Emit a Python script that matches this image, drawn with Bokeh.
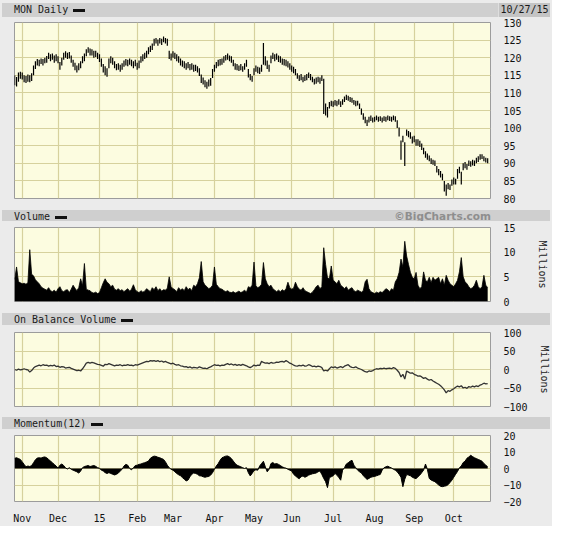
import numpy as np
import pandas as pd
from bokeh.plotting import figure
from bokeh.models import ColumnDataSource, Range1d, FixedTicker, Div
from bokeh.layouts import column
from bokeh.embed import file_html
from bokeh.resources import INLINE

# ---------------- data ----------------
symbol_title = "MON Daily"
last_date = "10/27/15"
holidays = ["2014-11-27", "2014-12-25", "2015-01-01", "2015-01-19", "2015-02-16",
            "2015-04-03", "2015-05-25", "2015-07-03", "2015-09-07"]
month_labels = ["Nov", "Dec", "15", "Feb", "Mar", "Apr", "May", "Jun", "Jul", "Aug", "Sep", "Oct"]

price_high = [
    115.0, 114.5, 115.8, 116.0, 115.8, 115.0, 114.8, 115.2, 115.0, 115.6,
    117.8, 119.0, 119.6, 119.4, 119.8, 119.6, 120.0, 120.5, 121.4, 121.0,
    121.2, 120.6, 121.0, 120.4, 118.8, 120.0, 121.4, 121.8, 121.4, 121.6,
    120.6, 119.4, 118.6, 117.8, 118.4, 119.0, 120.4, 121.2, 122.4, 123.0,
    122.6, 122.4, 122.0, 122.0, 121.4, 121.0, 119.8, 118.2, 117.6, 117.0,
    119.8, 120.4, 120.0, 119.0, 118.2, 118.4, 118.0, 118.4, 119.2, 119.6,
    119.4, 119.8, 119.4, 119.0, 119.4, 118.6, 119.2, 120.4, 121.0, 121.4,
    122.0, 123.0, 123.4, 124.0, 125.4, 125.6, 125.2, 125.6, 125.4, 126.0,
    125.6, 125.4, 122.0, 121.2, 121.8, 121.4, 121.0, 120.4, 119.8, 119.2,
    119.0, 118.4, 118.8, 118.2, 118.4, 118.0, 118.0, 117.6, 117.0, 115.2,
    114.4, 113.6, 113.2, 113.8, 114.2, 116.8, 118.0, 118.8, 119.4, 119.6,
    119.8, 120.4, 120.8, 121.2, 120.6, 120.4, 119.4, 118.4, 118.2, 117.8,
    118.2, 117.6, 118.4, 119.4, 116.8, 115.4, 114.8, 117.0, 117.8, 117.4,
    117.2, 118.0, 124.2, 120.4, 119.2, 118.0, 120.6, 121.4, 121.0, 121.2,
    120.6, 120.4, 119.8, 119.6, 119.4, 119.0, 118.4, 117.8, 117.4, 116.8,
    115.6, 115.0, 115.4, 114.6, 115.0, 115.4, 115.8, 115.4, 114.6, 114.0,
    114.4, 114.6, 114.4, 115.0, 114.0, 107.0, 106.0, 107.4, 107.8, 107.6,
    108.0, 107.8, 108.2, 107.6, 108.2, 109.0, 109.5, 109.2, 108.8, 108.6,
    108.0, 107.8, 107.8, 107.0, 105.6, 104.2, 103.2, 102.4, 103.2, 103.6,
    103.0, 103.2, 103.6, 103.2, 103.4, 103.0, 103.4, 103.2, 103.6, 103.4,
    103.2, 103.6, 103.4, 102.2, 100.2, 96.5, 97.8, 96.0, 99.6, 99.2,
    98.8, 97.6, 97.8, 96.8, 96.8, 96.4, 95.6, 94.4, 93.4, 92.8,
    92.2, 91.4, 91.0, 90.8, 89.2, 88.4, 87.8, 87.0, 85.0, 84.0,
    84.4, 84.0, 85.4, 86.0, 85.6, 88.4, 89.0, 87.6, 90.0, 90.4,
    89.8, 90.8, 90.6, 91.0, 90.8, 91.6, 92.0, 92.6, 92.6, 92.0, 91.6, 91.4,
]
price_low = [
    112.2, 111.8, 113.2, 114.0, 113.8, 113.0, 112.8, 113.2, 113.0, 113.4,
    115.0, 116.8, 117.8, 117.6, 118.2, 117.8, 118.4, 118.6, 119.6, 119.0,
    119.4, 118.6, 119.0, 118.4, 116.6, 117.8, 119.4, 120.0, 119.6, 119.8,
    118.6, 117.4, 116.4, 115.8, 116.4, 117.0, 118.4, 119.0, 120.4, 121.4,
    120.6, 120.6, 120.0, 120.2, 119.6, 118.8, 117.4, 115.8, 115.0, 114.6,
    117.0, 118.4, 118.0, 117.0, 116.4, 116.6, 116.0, 116.6, 117.4, 117.8,
    117.6, 118.0, 117.6, 117.0, 117.6, 116.6, 117.0, 118.6, 119.0, 119.6,
    120.0, 121.0, 121.6, 122.2, 123.4, 124.0, 123.4, 124.0, 123.6, 124.4,
    124.0, 123.4, 119.6, 119.2, 120.0, 119.6, 119.0, 118.6, 117.8, 117.4,
    117.0, 116.6, 117.0, 116.4, 116.6, 116.0, 116.2, 115.8, 114.8, 112.8,
    112.4, 111.6, 111.2, 111.8, 112.0, 114.2, 116.0, 117.0, 117.6, 117.8,
    118.0, 118.6, 119.2, 119.4, 119.0, 118.6, 117.6, 116.6, 116.4, 116.2,
    116.4, 116.0, 116.6, 117.4, 114.4, 113.6, 113.2, 115.0, 116.0, 115.6,
    115.4, 116.0, 118.0, 117.8, 116.8, 116.0, 118.4, 119.6, 119.0, 119.4,
    118.8, 118.6, 118.0, 117.8, 117.6, 117.2, 116.6, 116.0, 115.6, 115.0,
    114.0, 113.4, 113.6, 113.0, 113.4, 113.6, 114.2, 113.6, 113.0, 112.4,
    112.6, 113.0, 112.6, 113.4, 104.0, 103.6, 103.0, 105.6, 106.2, 106.0,
    106.4, 106.2, 106.6, 106.0, 106.6, 107.4, 108.0, 107.8, 107.4, 107.2,
    106.6, 106.2, 106.4, 105.4, 103.8, 102.4, 101.4, 100.6, 101.6, 102.0,
    101.6, 101.8, 102.2, 101.8, 102.0, 101.6, 102.0, 101.8, 102.2, 102.0,
    101.8, 102.2, 101.8, 100.0, 97.6, 91.0, 96.0, 89.2, 97.8, 97.4,
    97.0, 95.6, 96.0, 95.0, 95.0, 94.6, 93.8, 92.6, 91.6, 91.0,
    90.6, 89.8, 89.6, 89.2, 87.4, 86.6, 86.0, 85.2, 82.0, 80.8,
    82.6, 82.4, 83.6, 84.0, 84.0, 85.6, 87.2, 84.0, 88.0, 88.6,
    88.2, 89.2, 89.0, 89.4, 89.2, 90.0, 90.4, 91.0, 91.2, 90.6, 90.2, 90.0,
]
volume_m = [
    4.5, 7.0, 4.0, 3.8, 3.6, 3.7, 3.5, 3.8, 10.5, 5.5,
    5.2, 4.4, 4.0, 3.6, 3.0, 2.7, 2.5, 2.3, 2.8, 2.2,
    2.0, 2.3, 1.9, 2.6, 3.0, 2.2, 2.0, 2.3, 2.4, 1.8,
    2.5, 3.3, 2.7, 2.2, 2.8, 4.6, 3.2, 7.7, 2.5, 2.3,
    2.2, 1.8, 1.7, 1.9, 1.6, 1.8, 2.8, 3.8, 4.6, 3.9,
    3.6, 3.0, 3.3, 2.5, 2.3, 2.6, 2.2, 2.4, 2.0, 2.3,
    2.6, 2.1, 2.5, 3.4, 2.4, 2.0, 1.8, 2.2, 1.9, 2.1,
    2.6, 2.3, 2.0, 2.8, 2.4, 3.0, 2.2, 2.6, 2.1, 2.4,
    2.3, 2.7, 5.0, 3.0, 2.6, 2.4, 2.0, 2.8, 2.3, 2.6,
    2.2, 3.0, 2.4, 2.7, 2.2, 3.3, 3.0, 3.6, 4.8, 8.1,
    4.0, 3.3, 3.0, 2.6, 2.8, 3.3, 7.0, 3.5, 3.0, 2.6,
    2.5, 2.2, 2.0, 2.2, 1.9, 1.8, 2.0, 1.7, 1.9, 2.1,
    1.8, 2.0, 2.3, 1.9, 3.0, 2.8, 3.3, 8.0, 3.2, 2.8,
    3.0, 3.5, 7.9, 4.6, 3.6, 3.0, 3.3, 2.6, 2.3, 2.0,
    2.3, 2.0, 2.4, 2.1, 2.6, 3.9, 2.8, 2.5, 2.7, 3.9,
    3.0, 2.5, 2.3, 2.8, 2.2, 2.0, 1.8, 1.6, 1.9, 2.4,
    3.0, 3.3, 2.6, 3.0, 10.9, 7.5, 4.8, 4.6, 7.2, 4.3,
    4.0, 3.6, 4.3, 3.3, 3.0, 2.6, 3.0, 2.3, 2.6, 2.8,
    2.2, 2.0, 2.3, 2.1, 1.9, 2.2, 4.0, 4.5, 2.6, 2.0,
    1.8, 1.6, 1.9, 1.7, 2.0, 1.8, 2.2, 2.6, 2.4, 2.0,
    2.6, 2.3, 4.0, 4.6, 5.9, 8.6, 7.0, 12.2, 9.2, 7.5,
    5.9, 4.9, 4.6, 5.9, 3.3, 2.6, 3.0, 6.0, 4.3, 4.0,
    4.9, 3.8, 4.9, 4.3, 4.6, 4.9, 3.6, 4.6, 3.3, 5.3,
    4.3, 3.6, 3.3, 3.0, 3.6, 4.3, 6.0, 8.9, 5.0, 4.0,
    3.6, 3.0, 2.6, 2.8, 3.3, 4.3, 3.0, 2.6, 3.0, 5.3, 3.3, 2.8,
]
obv_m = [
    0, -2, 1, -1, 0, 2, 0, -1, -7, -3,
    4, 8, 10, 12, 10, 13, 11, 12, 9, 11,
    10, 12, 8, 9, 6, 8, 7, 4, 5, 6,
    3, 1, -1, -3, -2, -4, 2, 9, 17, 19,
    17, 19, 18, 16, 14, 13, 11, 9, 14, 13,
    16, 14, 12, 10, 12, 11, 13, 10, 12, 11,
    13, 11, 12, 10, 13, 12, 14, 16, 18, 20,
    22, 21, 24, 23, 24, 22, 24, 21, 23, 20,
    22, 19, 17, 15, 17, 14, 12, 13, 10, 9,
    7, 8, 5, 7, 4, 6, 5, 4, 7, 5,
    3, 4, 2, 5, 7, 10, 13, 11, 12, 10,
    12, 11, 14, 16, 13, 15, 12, 14, 11, 13,
    11, 14, 12, 10, 7, 5, 8, 12, 10, 12,
    11, 22, 19, 17, 18, 16, 19, 17, 18, 20,
    19, 21, 22, 20, 24, 21, 17, 15, 12, 10,
    9, 11, 10, 12, 9, 10, 13, 11, 8, 9,
    7, 9, 8, 5, -4, -2, -4, 2, 7, 5,
    7, 4, 6, 8, 5, 9, 11, 13, 8, 6,
    5, 7, 4, 2, 0, -3, -6, -7, -4, -5,
    -3, 0, 2, 1, 3, 2, 4, 2, 3, 4,
    2, 5, 3, -2, -8, -20, -13, -26, -4, -7,
    -10, -9, -13, -15, -18, -17, -20, -24, -22, -26,
    -29, -27, -31, -34, -37, -40, -44, -49, -55, -63,
    -57, -59, -55, -52, -48, -45, -47, -44, -50, -48,
    -51, -46, -48, -45, -47, -44, -46, -42, -40, -37, -39, -38,
]
momentum_12 = [
    6.2, 6.5, 6.0, 5.5, 4.0, 2.5, 1.0, 1.5, 1.2, 1.8,
    3.5, 5.3, 6.3, 6.5, 6.3, 6.8, 7.0, 6.5, 5.5, 4.5,
    3.5, 2.5, 1.5, 0.2, 2.0, 2.7, 1.8, 0.3, -0.3, 0.5,
    -0.5, -1.0, -1.5, -2.0, -2.8, -1.5, 0.5, 1.2, 1.5, 1.8,
    1.2, 1.5, 1.8, 1.3, 0.5, 0.2, -1.0, -1.5, -2.5, -3.0,
    -2.5, -3.0, -3.5, -3.9, -3.5, -2.8, -1.5, -0.5, 1.5, 2.5,
    2.0, 0.0, -0.8, 0.5, 1.8, 2.0, 2.5, 2.7, 3.2, 3.5,
    4.0, 4.5, 6.2, 7.0, 7.5, 7.3, 6.8, 6.5, 6.0, 5.5,
    4.0, 2.0, 0.5, -0.5, -1.0, -2.0, -3.0, -3.8, -4.4, -5.5,
    -6.5, -7.5, -7.0, -5.0, -3.5, -2.7, -3.0, -3.5, -4.4, -4.5,
    -5.0, -5.3, -5.0, -4.8, -4.0, -2.5, -0.5, 1.5, 3.0, 5.0,
    6.5, 7.0, 7.5, 7.6, 7.0, 6.0, 4.5, 3.0, 2.0, 1.5,
    1.0, 0.5, 0.0, 0.5, -2.5, -4.5, -3.0, -1.2, -0.8, -1.0,
    1.5, 3.0, 4.4, 1.0, -2.0, -0.5, 3.0, 3.6, 2.7, 3.0,
    2.5, 1.8, 1.0, 0.5, 0.2, -0.5, -1.0, -1.5, -3.5, -4.5,
    -5.5, -6.2, -5.0, -4.5, -5.3, -4.8, -4.0, -3.6, -3.2, -3.0,
    -2.7, -2.0, -1.5, -3.6, -6.0, -8.0, -11.6, -5.5, -5.0, -4.4,
    -3.0, -4.0, -5.5, -7.1, -1.0, 0.5, 2.7, 3.5, 4.4, 5.0,
    2.0, 0.5, -1.0, -2.0, -2.7, -4.4, -5.5, -6.6, -6.0, -5.3,
    -5.0, -4.8, -4.4, -4.0, -3.6, -1.0, 0.5, 1.0, 1.4, 0.8,
    0.3, -0.5, -1.0, -2.0, -3.5, -5.3, -11.0, -6.5, -3.6, -4.0,
    -4.4, -5.3, -5.8, -6.2, -5.0, -4.0, -2.5, -1.0, 2.7, -0.5,
    -6.0, -7.0, -7.5, -8.0, -9.0, -10.0, -10.8, -11.0, -10.7, -10.5,
    -9.8, -8.5, -7.1, -5.3, -3.5, -1.8, 0.5, 1.5, 3.6, 4.4,
    6.2, 7.0, 8.0, 7.2, 6.5, 6.0, 5.5, 5.0, 4.4, 3.0, 2.0, 1.0,
]

price_ticks = [80, 85, 90, 95, 100, 105, 110, 115, 120, 125, 130]
volume_ticks = [0, 5, 10, 15]
obv_ticks = [-100, -50, 0, 50, 100]
momentum_ticks = [-20, -10, 0, 10, 20]

# ---------------- build ----------------
dates = pd.bdate_range("2014-10-28", "2015-10-27", freq="C", holidays=holidays)
n = min(len(dates), len(price_high), len(price_low), len(volume_m), len(obv_m), len(momentum_12))
dates = dates[:n]
xi = list(range(n))
month_starts = [i for i in range(1, n) if dates[i].month != dates[i - 1].month]

src = ColumnDataSource(dict(
    x=xi, hi=price_high[:n], lo=price_low[:n], vol=volume_m[:n],
    obv=obv_m[:n], mom=momentum_12[:n],
))

W = 552
BORDER_L = 14
BORDER_R = 61
PAGE_BG = "#ebebeb"
BAR_BG = "#cfcfcf"
PLOT_BG = "#fcfce0"
GRID = "#d6d19d"
MONO = "DejaVu Sans Mono"

xr = Range1d(-0.1, 252.5)


def make_fig(h, top, bottom, yr, yticks, show_x=False, unit_label=None, unit_standoff=13):
    p = figure(width=W, height=h, x_range=xr, y_range=Range1d(*yr),
               y_axis_location="right", toolbar_location=None, output_backend="svg",
               min_border_left=BORDER_L, min_border_right=BORDER_R,
               min_border_top=top, min_border_bottom=bottom)
    p.border_fill_color = PAGE_BG
    p.background_fill_color = PLOT_BG
    p.outline_line_color = "#9c9c9c"
    p.outline_line_width = 1
    ya = p.yaxis[0]
    ya.ticker = FixedTicker(ticks=yticks)
    ya.axis_line_color = None
    ya.major_tick_line_color = None
    ya.minor_tick_line_color = None
    ya.major_label_standoff = 7
    ya.major_label_text_font = MONO
    ya.major_label_text_font_size = "10px"
    ya.major_label_text_color = "#111111"
    if unit_label:
        ya.axis_label = unit_label
        ya.axis_label_text_font = MONO
        ya.axis_label_text_font_size = "10px"
        ya.axis_label_text_font_style = "normal"
        ya.axis_label_text_color = "#222222"
        ya.axis_label_standoff = unit_standoff
    xa = p.xaxis[0]
    xa.ticker = FixedTicker(ticks=month_starts)
    xa.major_label_overrides = {m: lab for m, lab in zip(month_starts, month_labels)}
    xa.axis_line_color = None
    xa.major_tick_line_color = None
    xa.minor_tick_line_color = None
    xa.major_label_standoff = 5
    xa.major_label_text_font = MONO
    xa.major_label_text_font_size = "10px"
    xa.major_label_text_color = "#111111"
    xa.visible = show_x
    p.xgrid.ticker = FixedTicker(ticks=month_starts)
    p.ygrid.ticker = FixedTicker(ticks=yticks)
    for g in (p.xgrid, p.ygrid):
        g.grid_line_color = GRID
        g.grid_line_width = 1.2
    return p


def bar_div(h, top, left_text, right_html=""):
    swatch = ('<span style="display:inline-block;width:12px;height:3px;'
              'background:#111;vertical-align:middle;margin-left:5px;"></span>')
    html = (f'<div style="margin-top:{top}px;margin-left:2px;width:{W - 4}px;height:{h}px;'
            f'background:{BAR_BG};display:flex;align-items:center;justify-content:space-between;'
            f"font-family:'{MONO}',monospace;font-size:10px;color:#1a1a1a;line-height:{h}px;"
            f'white-space:nowrap;overflow:hidden;">'
            f'<span style="padding-left:12px;">{left_text}{swatch}</span>{right_html}</div>')
    return Div(text=html, width=W, height=h + top, margin=0,
               styles={"background-color": PAGE_BG, "overflow": "hidden"})


date_html = (f'<span style="background:#c4c4c4;width:52px;height:14px;text-align:center;'
             f'border-left:1px solid #dedede;">{last_date}</span>')
brand_html = ('<span style="font-family:\'DejaVu Sans\',sans-serif;font-weight:bold;color:#8e8e8e;'
              'font-size:10.5px;padding-right:59px;">&copy;BigCharts.com</span>')

bar1 = bar_div(14, 3, symbol_title, date_html)
bar2 = bar_div(13, 0, "Volume", brand_html)
bar3 = bar_div(14, 0, "On Balance Volume")
bar4 = bar_div(14, 0, "Momentum(12)")

# price
p1 = make_fig(191, 5, 10, (80, 130), price_ticks)
p1.segment(x0="x", y0="lo", x1="x", y1="hi", source=src, line_color="#000000", line_width=1.2)

# volume
p2 = make_fig(90, 6, 10, (0, 15), volume_ticks, unit_label="Millions", unit_standoff=18)
p2.varea(x="x", y1=0, y2="vol", source=src, fill_color="#000000")
p2.line(x="x", y="vol", source=src, line_color="#000000", line_width=0.8)

# OBV
p3 = make_fig(90, 7, 9, (-100, 100), obv_ticks, unit_label="Millions", unit_standoff=8)
p3.line(x="x", y="obv", source=src, line_color="#333333", line_width=1.3)

# Momentum
p4 = make_fig(97, 6, 17, (-20, 20), momentum_ticks, show_x=True)
p4.varea(x="x", y1=0, y2="mom", source=src, fill_color="#000000")
p4.line(x="x", y="mom", source=src, line_color="#000000", line_width=1)

layout = column(bar1, p1, bar2, p2, bar3, p3, bar4, p4, spacing=0)
layout.styles = {"background-color": PAGE_BG}

open("out.html", "w").write(file_html(layout, INLINE))
